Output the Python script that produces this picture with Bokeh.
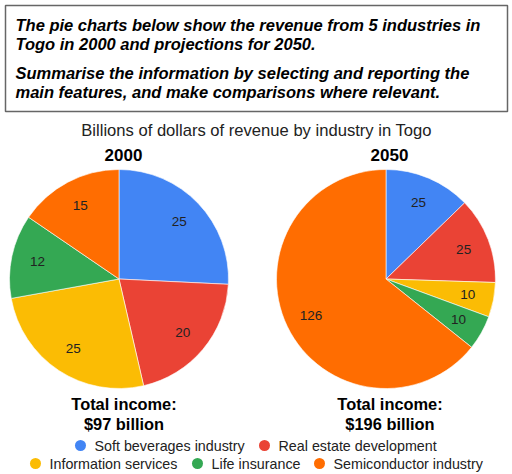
import numpy as np
from bokeh.plotting import figure
from bokeh.models import ColumnDataSource, Range1d
from bokeh.core.properties import value
from bokeh.embed import file_html
from bokeh.resources import INLINE

# ---------------- data ----------------
industries = ["Soft beverages industry", "Real estate development",
              "Information services", "Life insurance", "Semiconductor industry"]
colors = ["#4285F4", "#EA4335", "#FBBC04", "#34A853", "#FF6D01"]
rev_2000 = [25, 20, 25, 12, 15]
rev_2050 = [25, 25, 10, 10, 126]
years = ["2000", "2050"]
totals = ["$97 billion", "$196 billion"]
title = "Billions of dollars of revenue by industry in Togo"
prompt_lines = [
    "The pie charts below show the revenue from 5 industries in",
    "Togo in 2000 and projections for 2050.",
    "Summarise the information by selecting and reporting the",
    "main features, and make comparisons where relevant.",
]

W, H = 512, 474
FONT = value("Liberation Sans")


def fx(rx):
    return rx


def fy(ry):
    return H - ry


p = figure(width=W, height=H, output_backend="svg", toolbar_location=None,
           x_range=Range1d(0, W), y_range=Range1d(0, H), min_border=0)
p.axis.visible = False
p.grid.visible = False
p.outline_line_color = None
p.background_fill_color = "white"
p.border_fill_color = "white"

# --------------- prompt box ---------------
p.quad(left=[fx(5)], right=[fx(507)], top=[fy(5)], bottom=[fy(111)],
       fill_color="white", line_color="#666666", line_width=1.5)
line_y = [24, 43, 72, 91]
p.text(x=[fx(15)] * 4, y=[fy(v) for v in line_y], text=prompt_lines,
       text_font=FONT, text_font_style="bold italic", text_font_size="16.5px",
       text_color="#000000", text_align="left", text_baseline="middle")

# --------------- title ---------------
p.text(x=[fx(256)], y=[fy(130)], text=[title], text_font=FONT,
       text_font_size="16.6px", text_color="#222222",
       text_align="center", text_baseline="middle")

# --------------- pies ---------------
centers_x = [118.5, 385.5]
center_y = 278.5
R = 109.5
label_frac = 0.76
for i, vals in enumerate([rev_2000, rev_2050]):
    v = np.array(vals, dtype=float)
    frac = v / v.sum()
    cum_end = np.cumsum(frac)
    cum_start = cum_end - frac
    start = np.pi / 2 - cum_start * 2 * np.pi
    end = np.pi / 2 - cum_end * 2 * np.pi
    mid = (start + end) / 2
    cx, cy = fx(centers_x[i]), fy(center_y)
    src = ColumnDataSource(dict(start=start, end=end, color=colors,
                                name=industries, val=vals))
    p.wedge(x=cx, y=cy, radius=R, radius_units="screen", start_angle="start",
            end_angle="end", direction="clock", fill_color="color",
            line_color="white", line_width=0.6, source=src)
    lx = cx + label_frac * R * np.cos(mid)
    ly = cy + label_frac * R * np.sin(mid)
    p.text(x=lx, y=ly, text=[str(t) for t in vals], text_font=FONT,
           text_font_size="13.5px", text_color="#222222",
           text_align="center", text_baseline="middle")
    # year heading
    p.text(x=[fx([123, 389][i])], y=[fy(154)], text=[years[i]], text_font=FONT,
           text_font_style="bold", text_font_size="17px", text_color="#000000",
           text_align="center", text_baseline="middle")
    # totals
    tx = fx([123.5, 389.5][i])
    p.text(x=[tx, tx], y=[fy(403), fy(423)], text=["Total income:", totals[i]],
           text_font=FONT, text_font_style="bold", text_font_size="16.4px",
           text_color="#000000", text_align="center", text_baseline="middle")

# --------------- legend ---------------
leg_dot_x = [80, 264, 35, 197, 319]
leg_row_y = [445, 445, 463, 463, 463]
p.scatter(x=[fx(v) for v in leg_dot_x], y=[fy(v) for v in leg_row_y],
          size=11, marker="circle", fill_color=colors, line_color=None)
p.text(x=[fx(v + 14) for v in leg_dot_x], y=[fy(v) for v in leg_row_y],
       text=industries, text_font=FONT, text_font_size="14.3px",
       text_color="#222222", text_align="left", text_baseline="middle")

open("out.html", "w").write(file_html(p, INLINE))
